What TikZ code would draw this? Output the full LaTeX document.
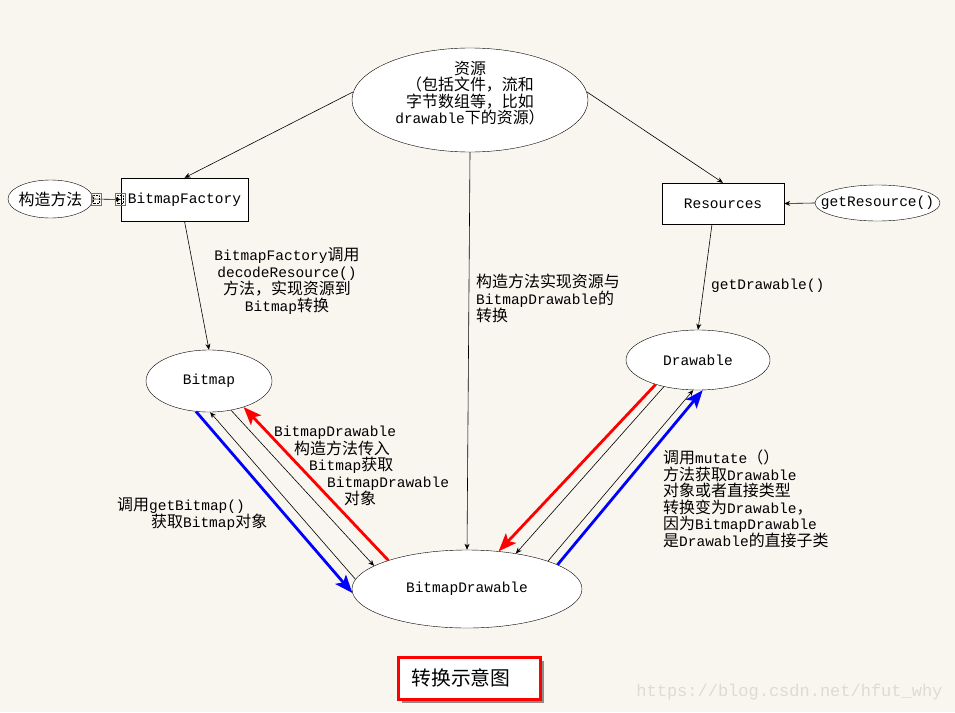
\documentclass[tikz,border=0pt]{standalone}
\usepackage{fontspec}
\setmainfont{Liberation Mono}
\newfontfamily\cjk[Scale=1.1]{Noto Sans CJK SC}
\newcommand{\zh}[1]{{\cjk #1}}
\usetikzlibrary{shapes.geometric}
\usetikzlibrary{arrows.meta}
\usetikzlibrary{shadows}

\definecolor{paper}{RGB}{249,246,240}
\definecolor{mark}{RGB}{222,218,212}
\definecolor{selgreen}{RGB}{0,190,0}

\tikzset{
  ell/.style={ellipse, draw, fill=white, inner sep=0pt},
  box/.style={rectangle, draw, fill=white, inner sep=0pt},
  thin/.style={-{Stealth[length=6pt,width=5pt]}, line width=0.6pt},
  fat/.style={-{Stealth[length=18pt,width=14pt,inset=4pt]}, line width=2.8pt},
  txt/.style={inner sep=0pt, align=left},
  handle/.style={rectangle, draw=selgreen, line width=0.9pt, minimum width=10pt, minimum height=12pt, inner sep=0pt,
    path picture={\draw[black, line width=0.5pt, densely dotted] ([shift={(2pt,2pt)}]path picture bounding box.south west) rectangle ([shift={(-2pt,-2pt)}]path picture bounding box.north east);}},
  titlebox/.style={rectangle, draw=red, line width=3pt, fill=white, minimum width=142pt, minimum height=42pt,
    general shadow={fill=black!45, shadow xshift=4pt, shadow yshift=-4pt}}
}

\begin{document}
\begin{tikzpicture}[x=1pt, y=-1pt, font=\fontsize{14.5}{16.4}\selectfont]
  \fill[paper] (0,0) rectangle (955,712);
  \useasboundingbox (0,0) rectangle (955,712);

  \node[ell, minimum width=236pt, minimum height=104pt,
    label={[align=center, yshift=7pt]center:\zh{资源}\\\zh{（包括文件，流和}\\\zh{字节数组等，比如}\\drawable\zh{下的资源）}}] (res) at (470,100) {};
  \node[box, minimum width=127pt, minimum height=43pt] (factory) at (184.5,199.5) {BitmapFactory};
  \node[box, minimum width=122pt, minimum height=41pt] (resources) at (723,203.5) {Resources};
  \node[ell, minimum width=85pt, minimum height=38pt, label={center:\zh{构造方法}}] (ctor) at (50.5,199) {};
  \node[ell, minimum width=125pt, minimum height=36pt, label={center:getResource()}] (getres) at (877.5,203) {};
  \node[ell, minimum width=126pt, minimum height=62pt] (bitmap) at (209,381) {Bitmap};
  \node[ell, minimum width=144pt, minimum height=60pt] (drawable) at (698,360) {Drawable};
  \node[ell, minimum width=230pt, minimum height=78pt] (bd) at (467,589) {BitmapDrawable};

  \draw[thin] (res.176) -- (factory.north);
  \draw[thin] (res.4) -- (resources.north);
  \draw[thin] (res.south) -- (bd.north);
  \draw[thin] (factory.south) -- (bitmap.north);
  \draw[thin] (resources.-118) -- (drawable.north);
  \draw[thin] (getres.west) -- (resources.east);
  \draw[thin] (ctor.east) -- (factory.west);
  \node[handle] (h1) at (96,199) {};
  \node[handle] (h2) at (120,199) {};

  % Bitmap <-> BitmapDrawable
  \draw[fat, blue] (bitmap.-113) -- (bd.182);
  \draw[thin] (bd.175) -- (bitmap.-88);
  \draw[thin] (bitmap.-53) -- (bd.166);
  \draw[fat, red] (bd.160) -- (bitmap.-37);
  % Drawable <-> BitmapDrawable
  \draw[fat, red] (drawable.-150) -- (bd.50);
  \draw[thin] (drawable.-142) -- (bd.36);
  \draw[thin] (bd.19) -- (drawable.-99);
  \draw[fat, blue] (bd.15) -- (drawable.-81);

  \node[txt, align=center] (lfactory) at (287,281) {BitmapFactory\zh{调用}\\decodeResource()\\\zh{方法，实现资源到}\\Bitmap\zh{转换}};
  \node[txt, anchor=north west] (lbd) at (476,274) {\zh{构造方法实现资源与}\\BitmapDrawable\zh{的}\\\zh{转换}};
  \node[txt, anchor=west] (ldraw) at (711,286) {getDrawable()};
  \node[txt, anchor=north west] (lwrap) at (274,426) {BitmapDrawable\\\hspace*{20pt}\zh{构造方法传入}\\\hspace*{35pt}Bitmap\zh{获取}\\\hspace*{53pt}BitmapDrawable\\\hspace*{70pt}\zh{对象}};
  \node[txt, anchor=north west] (lget) at (117,497) {\zh{调用}getBitmap()\\\hspace*{34pt}\zh{获取}Bitmap\zh{对象}};
  \node[txt, anchor=north west] (lmut) at (663,450) {\zh{调用}mutate\zh{（）}\\\zh{方法获取}Drawable\\\zh{对象或者直接类型}\\\zh{转换变为}Drawable\zh{，}\\\zh{因为}BitmapDrawable\\\zh{是}Drawable\zh{的直接子类}};

  \node[titlebox] (title) at (469,678) {\cjk\fontsize{18}{20}\selectfont 转换示意图\hspace*{16pt}};
  \node[anchor=east, text=mark, font=\fontsize{17}{17}\selectfont] (wm) at (946,692) {https://blog.csdn.net/hfut\_why};
\end{tikzpicture}
\end{document}
